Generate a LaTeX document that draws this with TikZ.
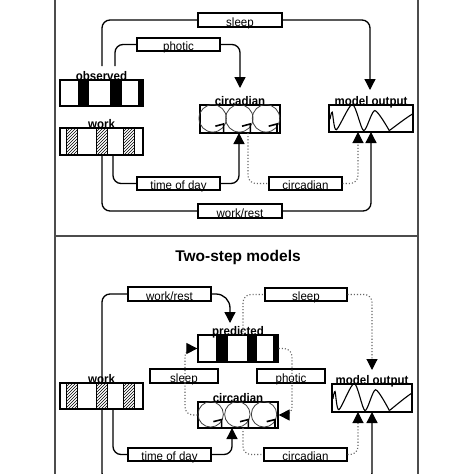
\documentclass[tikz,border=0pt]{standalone}
\usepackage{fontspec}
\setmainfont{Liberation Sans}
\newfontfamily\labfont{Liberation Sans}[FakeStretch=0.92]
\newfontfamily\boxfont{Liberation Sans}[FakeStretch=0.96]
\usetikzlibrary{arrows.meta,patterns}
\tikzset{
  lbox/.style={draw, line width=1.2pt, inner sep=0pt, minimum height=14pt, text height=12pt, text depth=0pt, font=\boxfont\fontsize{12}{13}\selectfont},
  blabel/.style={inner sep=0pt, anchor=base, font=\labfont\bfseries\fontsize{12.5}{13}\selectfont},
  databox/.style={draw, line width=1.3pt, inner sep=0pt},
  panelbox/.style={draw=black!70, line width=1.4pt},
  conn/.style={line width=1.3pt, rounded corners=8pt},
  dconn/.style={black!60, line width=1.1pt, dotted, rounded corners=8pt},
  arr/.style={-{Triangle[length=11pt,width=11pt,color=black]}},
  stripe/.style={fill=black},
  hatch/.style={draw, line width=0.8pt, pattern=north east lines},
}
\newcommand\drawclocks[2]{% node, height
  \begin{scope}[shift={(#1.north west)}]
    \foreach \i in {0,1,2}{
      \pgfmathsetmacro\xo{26.67*\i}
      \draw[black!75, line width=0.8pt] (\xo+13.33,#2/2) circle[radius=#2/2-0.3];
      \draw[line width=1.6pt] (\xo+16,0.78*#2) -- (\xo+24.3,0.7*#2) -- (\xo+24.3,1.05*#2);
    }
  \end{scope}}
\newcommand\drawwave[3]{% node, width, height
  \begin{scope}[shift={(#1.north west)}, x=#2pt, y=-#3pt]
    \draw[line width=1.1pt] plot[smooth, tension=0.45] coordinates {(0.02,0.55) (0.046,0.29) (0.095,0.94) (0.286,0.0) (0.42,0.97) (0.553,0.23) (0.725,0.97)};
    \draw[line width=1.1pt] (0.725,0.97) .. controls (0.76,0.9) and (0.9,0.55) .. (1.0,0.36);
  \end{scope}}
\begin{document}
\begin{tikzpicture}[x=1pt,y=-1pt]
\useasboundingbox[fill=white] (0,0) rectangle (474,474);
\clip (0,0) rectangle (474,474);
% panels
\draw[panelbox] (55,-5) rectangle (418,236);
\draw[panelbox] (55,236) rectangle (418,480);

% ---------- top panel ----------
\fill[stripe] (78,80) rectangle (89,106);
\fill[stripe] (110,80) rectangle (122,106);
\fill[stripe] (138,80) rectangle (143,106);
\node[databox, minimum width=83pt, minimum height=26pt] (obs) at (101.5,93) {};
\node[blabel] (obslab) at (101.5,80) {observed};

\draw[hatch] (66,128) rectangle (77,155);
\draw[hatch] (96,128) rectangle (107,155);
\draw[hatch] (123,128) rectangle (134,155);
\node[databox, minimum width=83pt, minimum height=27pt] (work1) at (101.5,141.5) {};
\node[blabel] (work1lab) at (101.5,128) {work};

\node[databox, minimum width=80pt, minimum height=28pt] (circ1) at (240,119) {};
\drawclocks{circ1}{28}
\node[blabel] (circ1lab) at (240,105) {circadian};

\node[databox, minimum width=84pt, minimum height=27pt] (mo1) at (371,118.5) {};
\drawwave{mo1}{84}{27}
\node[blabel] (mo1lab) at (371,105) {model output};

\node[lbox, minimum width=84pt] (sleep1) at (240,20) {sleep};
\node[lbox, minimum width=83pt, minimum height=13pt] (photic1) at (178.5,44.5) {photic};
\node[lbox, minimum width=83pt, minimum height=13pt] (tod1) at (178.5,183.5) {time of day};
\node[lbox, minimum width=73pt, minimum height=13pt] (circtxt1) at (305.5,183.5) {circadian};
\node[lbox, minimum width=84pt] (wr1) at (240,211) {work/rest};

\coordinate (s1) at (102,66);
\coordinate (p1) at (115,66);
\coordinate (sa1) at (370,90);
\coordinate (pa1) at (240,88);
\coordinate (w1a) at (102,155);
\coordinate (w1b) at (113,155);
\coordinate (ca1) at (239,133);
\coordinate (cd1) at (248,133);
\coordinate (ma1) at (358,132);
\coordinate (mb1) at (371,132);

\draw[conn] (s1) |- (sleep1.west);
\draw[conn,arr] (sleep1.east) -| (sa1);
\draw[conn] (p1) |- (photic1.west);
\draw[conn,arr] (photic1.east) -| (pa1);
\draw[conn] (w1a) |- (wr1.west);
\draw[conn,arr] (wr1.east) -| (mb1);
\draw[conn] (w1b) |- (tod1.west);
\draw[conn,arr] (tod1.east) -| (ca1);
\draw[dconn] (cd1) |- (circtxt1.west);
\draw[dconn,arr] (circtxt1.east) -| (ma1);

% ---------- bottom panel ----------
\node[inner sep=0pt, anchor=base, font=\bfseries\fontsize{15.5}{18}\selectfont] (title) at (238,261) {Two-step models};

\fill[stripe] (216,335) rectangle (228,362);
\fill[stripe] (247,335) rectangle (257,362);
\fill[stripe] (273,335) rectangle (278,362);
\node[databox, minimum width=80pt, minimum height=27pt] (pred) at (238,348.5) {};
\node[blabel] (predlab) at (238,335) {predicted};

\draw[hatch] (66,383) rectangle (77,409);
\draw[hatch] (96,383) rectangle (107,409);
\draw[hatch] (123,383) rectangle (134,409);
\node[databox, minimum width=83pt, minimum height=26pt] (work2) at (101.5,396) {};
\node[blabel] (work2lab) at (101.5,383) {work};

\node[databox, minimum width=80pt, minimum height=26pt] (circ2) at (238,415) {};
\drawclocks{circ2}{26}
\node[blabel] (circ2lab) at (238,402) {circadian};

\node[databox, minimum width=80pt, minimum height=28pt] (mo2) at (372,398) {};
\drawwave{mo2}{80}{28}
\node[blabel] (mo2lab) at (372,384) {model output};

\node[lbox, minimum width=83pt] (wr2) at (169.5,294) {work/rest};
\node[lbox, minimum width=82pt, minimum height=13pt] (sleep2) at (306,294.5) {sleep};
\node[lbox, minimum width=68pt] (sleep3) at (184,376) {sleep};
\node[lbox, minimum width=68pt] (photic3) at (291,376) {photic};
\node[lbox, minimum width=83pt, minimum height=13pt] (tod2) at (169.5,454.5) {time of day};
\node[lbox, minimum width=83pt, minimum height=13pt] (circtxt2) at (305.5,454.5) {circadian};

\coordinate (w2t) at (102,383);
\coordinate (w2a) at (102,409);
\coordinate (w2b) at (113,409);
\coordinate (pa2) at (230,323);
\coordinate (pt2) at (243,335);
\coordinate (sa2) at (372,370);
\coordinate (lx) at (185,380);
\coordinate (rx) at (292,380);
\coordinate (ca2) at (232,428);
\coordinate (cd2) at (243,428);
\coordinate (ma2) at (358,412);
\coordinate (mb2) at (372,412);
\coordinate (bot) at (240,481);

\draw[conn] (w2t) |- (wr2.west);
\draw[conn,arr,rounded corners=14pt] (wr2.east) -| (pa2);
\draw[dconn] (pt2) |- (sleep2.west);
\draw[dconn,arr] (sleep2.east) -| (sa2);
\draw[dconn,arr] (circ2.west) -| (lx) |- (pred.west);
\draw[dconn,arr] (pred.east) -| (rx) |- (circ2.east);
\draw[conn] (w2b) |- (tod2.west);
\draw[conn,arr] (tod2.east) -| (ca2);
\draw[dconn] (cd2) |- (circtxt2.west);
\draw[dconn,arr] (circtxt2.east) -| (ma2);
\draw[conn,arr] (w2a) |- (bot) -| (mb2);
\end{tikzpicture}
\end{document}
